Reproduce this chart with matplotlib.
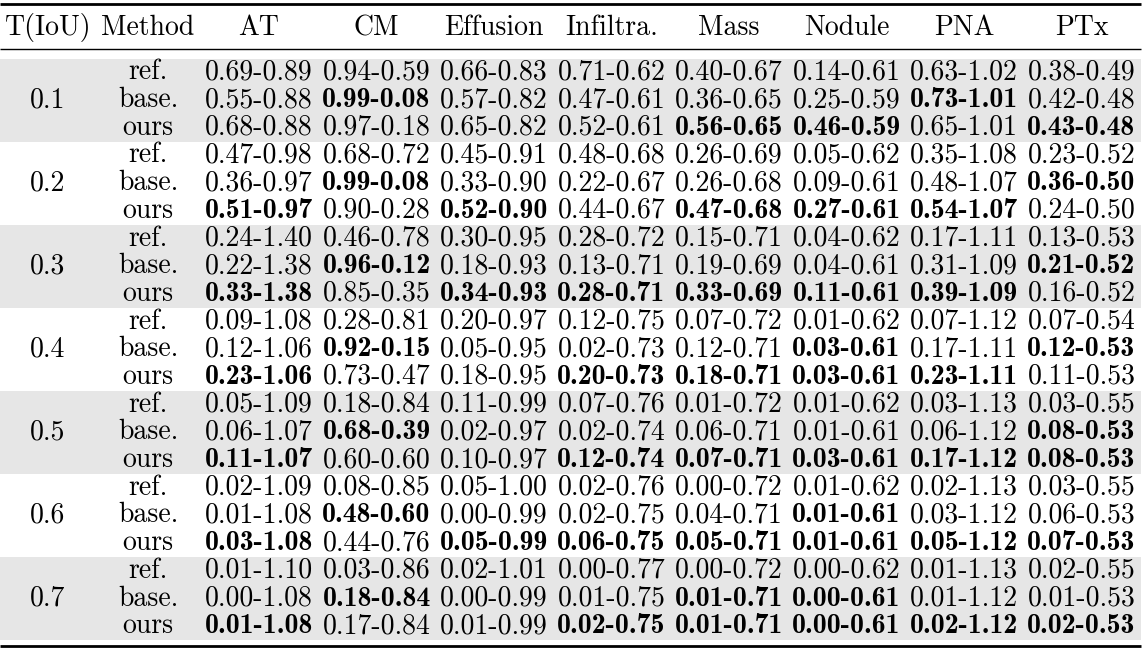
import matplotlib
matplotlib.use("Agg")
import matplotlib.pyplot as plt
from matplotlib.patches import Rectangle

# table content
thresholds = ["0.1", "0.2", "0.3", "0.4", "0.5", "0.6", "0.7"]
methods = ["ref.", "base.", "ours"]
classes = ["AT", "CM", "Effusion", "Infiltra.", "Mass", "Nodule", "PNA", "PTx"]

ref_vals = [
    ["0.69-0.89", "0.94-0.59", "0.66-0.83", "0.71-0.62", "0.40-0.67", "0.14-0.61", "0.63-1.02", "0.38-0.49"],
    ["0.47-0.98", "0.68-0.72", "0.45-0.91", "0.48-0.68", "0.26-0.69", "0.05-0.62", "0.35-1.08", "0.23-0.52"],
    ["0.24-1.40", "0.46-0.78", "0.30-0.95", "0.28-0.72", "0.15-0.71", "0.04-0.62", "0.17-1.11", "0.13-0.53"],
    ["0.09-1.08", "0.28-0.81", "0.20-0.97", "0.12-0.75", "0.07-0.72", "0.01-0.62", "0.07-1.12", "0.07-0.54"],
    ["0.05-1.09", "0.18-0.84", "0.11-0.99", "0.07-0.76", "0.01-0.72", "0.01-0.62", "0.03-1.13", "0.03-0.55"],
    ["0.02-1.09", "0.08-0.85", "0.05-1.00", "0.02-0.76", "0.00-0.72", "0.01-0.62", "0.02-1.13", "0.03-0.55"],
    ["0.01-1.10", "0.03-0.86", "0.02-1.01", "0.00-0.77", "0.00-0.72", "0.00-0.62", "0.01-1.13", "0.02-0.55"],
]
base_vals = [
    ["0.55-0.88", "0.99-0.08", "0.57-0.82", "0.47-0.61", "0.36-0.65", "0.25-0.59", "0.73-1.01", "0.42-0.48"],
    ["0.36-0.97", "0.99-0.08", "0.33-0.90", "0.22-0.67", "0.26-0.68", "0.09-0.61", "0.48-1.07", "0.36-0.50"],
    ["0.22-1.38", "0.96-0.12", "0.18-0.93", "0.13-0.71", "0.19-0.69", "0.04-0.61", "0.31-1.09", "0.21-0.52"],
    ["0.12-1.06", "0.92-0.15", "0.05-0.95", "0.02-0.73", "0.12-0.71", "0.03-0.61", "0.17-1.11", "0.12-0.53"],
    ["0.06-1.07", "0.68-0.39", "0.02-0.97", "0.02-0.74", "0.06-0.71", "0.01-0.61", "0.06-1.12", "0.08-0.53"],
    ["0.01-1.08", "0.48-0.60", "0.00-0.99", "0.02-0.75", "0.04-0.71", "0.01-0.61", "0.03-1.12", "0.06-0.53"],
    ["0.00-1.08", "0.18-0.84", "0.00-0.99", "0.01-0.75", "0.01-0.71", "0.00-0.61", "0.01-1.12", "0.01-0.53"],
]
ours_vals = [
    ["0.68-0.88", "0.97-0.18", "0.65-0.82", "0.52-0.61", "0.56-0.65", "0.46-0.59", "0.65-1.01", "0.43-0.48"],
    ["0.51-0.97", "0.90-0.28", "0.52-0.90", "0.44-0.67", "0.47-0.68", "0.27-0.61", "0.54-1.07", "0.24-0.50"],
    ["0.33-1.38", "0.85-0.35", "0.34-0.93", "0.28-0.71", "0.33-0.69", "0.11-0.61", "0.39-1.09", "0.16-0.52"],
    ["0.23-1.06", "0.73-0.47", "0.18-0.95", "0.20-0.73", "0.18-0.71", "0.03-0.61", "0.23-1.11", "0.11-0.53"],
    ["0.11-1.07", "0.60-0.60", "0.10-0.97", "0.12-0.74", "0.07-0.71", "0.03-0.61", "0.17-1.12", "0.08-0.53"],
    ["0.03-1.08", "0.44-0.76", "0.05-0.99", "0.06-0.75", "0.05-0.71", "0.01-0.61", "0.05-1.12", "0.07-0.53"],
    ["0.01-1.08", "0.17-0.84", "0.01-0.99", "0.02-0.75", "0.01-0.71", "0.00-0.61", "0.02-1.12", "0.02-0.53"],
]

# column indices printed in bold, per threshold
ref_bold = [[], [], [], [], [], [], []]
base_bold = [[1, 6], [1, 7], [1, 7], [1, 5, 7], [1, 7], [1, 5], [1, 4, 5]]
ours_bold = [[4, 5, 7], [0, 2, 4, 5, 6], [0, 2, 3, 4, 5, 6], [0, 3, 4, 5, 6],
             [0, 3, 4, 5, 6, 7], [0, 2, 3, 4, 5, 6, 7], [0, 3, 4, 5, 6, 7]]

# layout (pixels)
W, H = 1144, 651
t_x, m_x = 48, 148
col_x = [259, 376.5, 494, 611.5, 729, 846.5, 964, 1081.5]
row_top0 = 58.5
row_h = 27.7
base_off = 20.8
x_end = 1141
fs = 20
reg = "cmr10"
bld = "cmb10"

fig = plt.figure(figsize=(W / 100, H / 100), dpi=100)
ax = fig.add_axes([0, 0, 1, 1])
ax.set_xlim(0, W)
ax.set_ylim(H, 0)
ax.axis("off")

# header
ax.text(t_x, 35, "T(IoU)", ha="center", va="baseline", fontsize=fs, family=reg)
ax.text(m_x, 35, "Method", ha="center", va="baseline", fontsize=fs, family=reg)
for x, c in zip(col_x, classes):
    ax.text(x, 35, c, ha="center", va="baseline", fontsize=fs, family=reg)

# rules
ax.hlines(3.5, 0, x_end, color="black", lw=2.0)
ax.hlines(49, 0, x_end, color="black", lw=1.0)

groups = list(zip(ref_vals, base_vals, ours_vals))
bolds = list(zip(ref_bold, base_bold, ours_bold))
n_rows = len(thresholds) * len(methods)

for g, thr in enumerate(thresholds):
    top = row_top0 + g * len(methods) * row_h
    if g % 2 == 0:
        ax.add_patch(Rectangle((0, top), x_end, len(methods) * row_h,
                               facecolor="#e6e6e6", edgecolor="none", zorder=0))
    ax.text(t_x, top + row_h + base_off, thr, ha="center", va="baseline",
            fontsize=fs, family=reg)
    for k, meth in enumerate(methods):
        y = top + k * row_h + base_off
        ax.text(m_x, y, meth, ha="center", va="baseline", fontsize=fs, family=reg)
        for j, v in enumerate(groups[g][k]):
            fam = bld if j in bolds[g][k] else reg
            ax.text(col_x[j], y, v, ha="center", va="baseline", fontsize=fs, family=fam)

bottom = row_top0 + n_rows * row_h
ax.hlines(bottom + 6, 0, x_end, color="black", lw=2.0)

fig.savefig("out.png", dpi=100, facecolor="white")
